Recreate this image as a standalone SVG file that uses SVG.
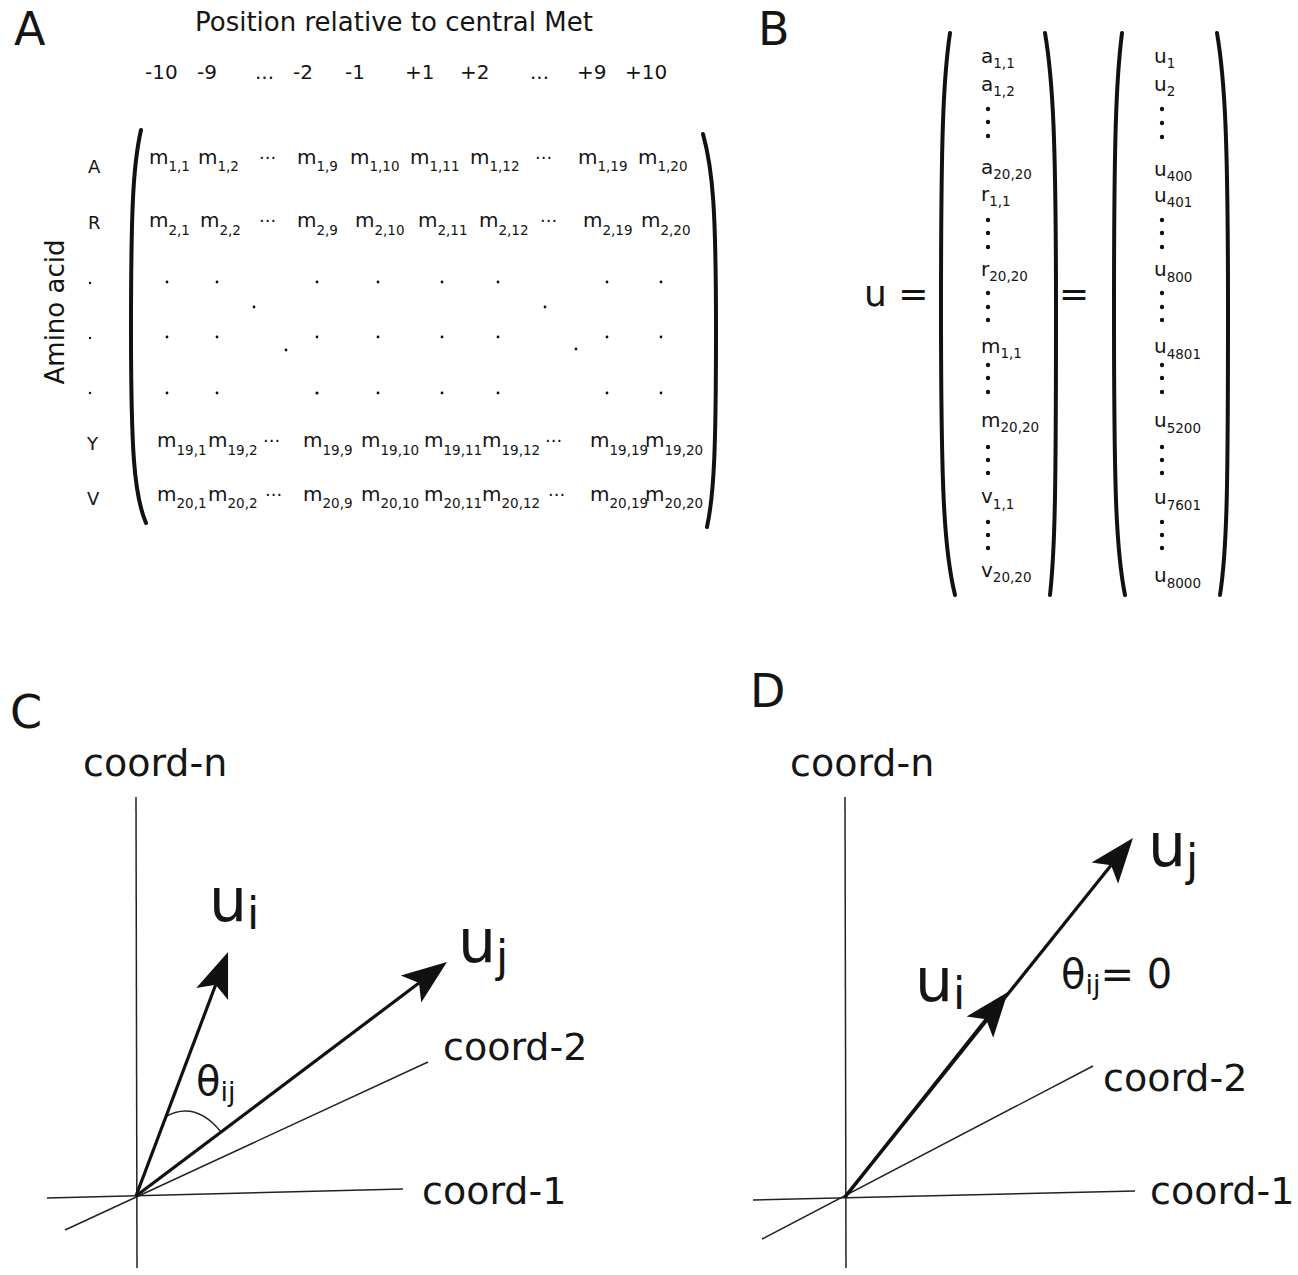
<svg xmlns="http://www.w3.org/2000/svg" width="1298" height="1275" viewBox="0 0 1298 1275">
<defs>
<style>
text{font-family:"DejaVu Sans","Liberation Sans",sans-serif;fill:#151515}
.lbl{font-size:46px}
.num{font-size:20px}
.row{font-size:18px}
.m{font-size:20px}
.s{font-size:13.5px}
.dots{font-size:18px}
.br{fill:none;stroke:#111;stroke-width:4;stroke-linecap:round}
.ax{fill:none;stroke:#222;stroke-width:1.5}
.vec{fill:none;stroke:#111;stroke-width:3.2}
.big{font-size:60px}
.bs{font-size:44px}
.co{font-size:38px}
.th{font-size:40px}
.ths{font-size:27px}
</style>
<marker id="ah" viewBox="-2 -20 50 40" refX="10" refY="0" markerWidth="50" markerHeight="40" markerUnits="userSpaceOnUse" orient="auto" overflow="visible">
<path d="M0,-17 L45,0 L0,17 L10,0 Z" fill="#111"/>
</marker>
</defs>
<rect width="1298" height="1275" fill="#fff"/>

<g id="panelA">
<text class="lbl" x="14" y="45">A</text>
<text x="195" y="31" font-size="26">Position relative to central Met</text>
<g class="num">
<text x="145" y="79">-10</text><text x="197" y="79">-9</text><text x="255" y="79">...</text>
<text x="293" y="79">-2</text><text x="345" y="79">-1</text><text x="405" y="79">+1</text>
<text x="460" y="79">+2</text><text x="530" y="79">...</text><text x="577" y="79">+9</text><text x="625" y="79">+10</text>
</g>
<text x="0" y="0" font-size="26" transform="translate(64,312) rotate(-90)" text-anchor="middle">Amino acid</text>
<g class="row">
<text x="88" y="173">A</text><text x="88" y="229">R</text>
<text x="87" y="450">Y</text><text x="87" y="505">V</text>
</g>
<g fill="#111">
<circle cx="90" cy="283" r="1.2"/><circle cx="90" cy="338" r="1.2"/><circle cx="90" cy="393" r="1.2"/>
</g>
<path class="br" d="M141,130 C133,165 131,210 131,330 C131,450 134,495 146,523"/>
<path class="br" d="M703,134 C713,170 716,210 716,330 C716,450 714,495 707,527"/>
<g id="row1" class="m">
<text x="149" y="164">m<tspan class="s" dy="7">1,1</tspan></text>
<text x="198" y="164">m<tspan class="s" dy="7">1,2</tspan></text>
<text class="dots" x="259" y="164">···</text>
<text x="297" y="164">m<tspan class="s" dy="7">1,9</tspan></text>
<text x="350" y="164">m<tspan class="s" dy="7">1,10</tspan></text>
<text x="410" y="164">m<tspan class="s" dy="7">1,11</tspan></text>
<text x="470" y="164">m<tspan class="s" dy="7">1,12</tspan></text>
<text class="dots" x="535" y="164">···</text>
<text x="578" y="164">m<tspan class="s" dy="7">1,19</tspan></text>
<text x="638" y="164">m<tspan class="s" dy="7">1,20</tspan></text>
</g>
<g id="row2" class="m">
<text x="149" y="227">m<tspan class="s" dy="8">2,1</tspan></text>
<text x="200" y="227">m<tspan class="s" dy="8">2,2</tspan></text>
<text class="dots" x="259" y="227">···</text>
<text x="297" y="227">m<tspan class="s" dy="8">2,9</tspan></text>
<text x="355" y="227">m<tspan class="s" dy="8">2,10</tspan></text>
<text x="418" y="227">m<tspan class="s" dy="8">2,11</tspan></text>
<text x="479" y="227">m<tspan class="s" dy="8">2,12</tspan></text>
<text class="dots" x="540" y="227">···</text>
<text x="583" y="227">m<tspan class="s" dy="8">2,19</tspan></text>
<text x="641" y="227">m<tspan class="s" dy="8">2,20</tspan></text>
</g>
<g id="rowdots" fill="#111">
<circle cx="167" cy="282" r="1.4"/><circle cx="217" cy="282" r="1.4"/><circle cx="317" cy="282" r="1.4"/><circle cx="378" cy="282" r="1.4"/><circle cx="442" cy="282" r="1.4"/><circle cx="498" cy="282" r="1.4"/><circle cx="607" cy="282" r="1.4"/><circle cx="661" cy="282" r="1.4"/>
<circle cx="254" cy="307" r="1.4"/><circle cx="545" cy="307" r="1.4"/>
<circle cx="167" cy="337" r="1.4"/><circle cx="217" cy="337" r="1.4"/><circle cx="317" cy="337" r="1.4"/><circle cx="378" cy="337" r="1.4"/><circle cx="442" cy="337" r="1.4"/><circle cx="498" cy="337" r="1.4"/><circle cx="607" cy="337" r="1.4"/><circle cx="661" cy="337" r="1.4"/>
<circle cx="286" cy="350" r="1.4"/><circle cx="576" cy="349" r="1.4"/>
<circle cx="167" cy="393" r="1.4"/><circle cx="217" cy="393" r="1.4"/><circle cx="317" cy="393" r="1.6"/><circle cx="378" cy="393" r="1.4"/><circle cx="442" cy="393" r="1.4"/><circle cx="498" cy="393" r="1.4"/><circle cx="607" cy="393" r="1.4"/><circle cx="661" cy="393" r="1.4"/>
</g>
<g id="row19" class="m">
<text x="157" y="447">m<tspan class="s" dy="8">19,1</tspan></text>
<text x="208" y="447">m<tspan class="s" dy="8">19,2</tspan></text>
<text class="dots" x="263" y="447">···</text>
<text x="303" y="447">m<tspan class="s" dy="8">19,9</tspan></text>
<text x="361" y="447">m<tspan class="s" dy="8">19,10</tspan></text>
<text x="424" y="447">m<tspan class="s" dy="8">19,11</tspan></text>
<text x="482" y="447">m<tspan class="s" dy="8">19,12</tspan></text>
<text class="dots" x="545" y="447">···</text>
<text x="590" y="447">m<tspan class="s" dy="8">19,19</tspan></text>
<text x="645" y="447">m<tspan class="s" dy="8">19,20</tspan></text>
</g>
<g id="row20" class="m">
<text x="157" y="501">m<tspan class="s" dy="7">20,1</tspan></text>
<text x="208" y="501">m<tspan class="s" dy="7">20,2</tspan></text>
<text class="dots" x="265" y="501">···</text>
<text x="303" y="501">m<tspan class="s" dy="7">20,9</tspan></text>
<text x="361" y="501">m<tspan class="s" dy="7">20,10</tspan></text>
<text x="424" y="501">m<tspan class="s" dy="7">20,11</tspan></text>
<text x="482" y="501">m<tspan class="s" dy="7">20,12</tspan></text>
<text class="dots" x="548" y="501">···</text>
<text x="590" y="501">m<tspan class="s" dy="7">20,19</tspan></text>
<text x="645" y="501">m<tspan class="s" dy="7">20,20</tspan></text>
</g>
</g>

<g id="panelB">
<text class="lbl" x="758" y="45">B</text>
<text x="864" y="306" font-size="36">u =</text>
<text x="1059" y="306" font-size="36">=</text>
<path class="br" d="M950,33 C943,80 941,140 941,310 C941,490 944,550 955,595"/>
<path class="br" d="M1045,33 C1053,80 1056,140 1056,310 C1056,490 1055,550 1050,595"/>
<path class="br" d="M1122,33 C1116,80 1114,140 1114,310 C1114,490 1116,550 1125,595"/>
<path class="br" d="M1217,33 C1225,80 1228,140 1228,310 C1228,490 1227,550 1220,595"/>
<g id="col1" class="m">
<text x="981" y="63">a<tspan class="s" dy="5">1,1</tspan></text>
<text x="981" y="91">a<tspan class="s" dy="5">1,2</tspan></text>
<text x="981" y="174">a<tspan class="s" dy="5">20,20</tspan></text>
<text x="981" y="201">r<tspan class="s" dy="5">1,1</tspan></text>
<text x="981" y="276">r<tspan class="s" dy="5">20,20</tspan></text>
<text x="981" y="353">m<tspan class="s" dy="5">1,1</tspan></text>
<text x="981" y="427">m<tspan class="s" dy="5">20,20</tspan></text>
<text x="981" y="503">v<tspan class="s" dy="6">1,1</tspan></text>
<text x="981" y="577">v<tspan class="s" dy="5">20,20</tspan></text>
</g>
<g id="col2" class="m">
<text x="1154" y="63">u<tspan class="s" dy="5">1</tspan></text>
<text x="1154" y="91">u<tspan class="s" dy="5">2</tspan></text>
<text x="1154" y="176">u<tspan class="s" dy="5">400</tspan></text>
<text x="1154" y="202">u<tspan class="s" dy="5">401</tspan></text>
<text x="1154" y="276">u<tspan class="s" dy="6">800</tspan></text>
<text x="1154" y="353">u<tspan class="s" dy="6">4801</tspan></text>
<text x="1154" y="427">u<tspan class="s" dy="6">5200</tspan></text>
<text x="1154" y="504">u<tspan class="s" dy="6">7601</tspan></text>
<text x="1154" y="582">u<tspan class="s" dy="6">8000</tspan></text>
</g>
<g id="vdots" fill="#111">
<circle cx="988" cy="109" r="2.2"/><circle cx="988" cy="122" r="2.2"/><circle cx="988" cy="136" r="2.2"/>
<circle cx="988" cy="220" r="2.2"/><circle cx="988" cy="233" r="2.2"/><circle cx="988" cy="247" r="2.2"/>
<circle cx="988" cy="293" r="2.2"/><circle cx="988" cy="307" r="2.2"/><circle cx="988" cy="320" r="2.2"/>
<circle cx="988" cy="365" r="2.2"/><circle cx="988" cy="378" r="2.2"/><circle cx="988" cy="392" r="2.2"/>
<circle cx="988" cy="447" r="2.2"/><circle cx="988" cy="460" r="2.2"/><circle cx="988" cy="473" r="2.2"/>
<circle cx="988" cy="522" r="2.2"/><circle cx="988" cy="535" r="2.2"/><circle cx="988" cy="548" r="2.2"/>
<circle cx="1162" cy="109" r="2.2"/><circle cx="1162" cy="123" r="2.2"/><circle cx="1162" cy="137" r="2.2"/>
<circle cx="1162" cy="220" r="2.2"/><circle cx="1162" cy="233" r="2.2"/><circle cx="1162" cy="247" r="2.2"/>
<circle cx="1162" cy="293" r="2.2"/><circle cx="1162" cy="307" r="2.2"/><circle cx="1162" cy="320" r="2.2"/>
<circle cx="1162" cy="365" r="2.2"/><circle cx="1162" cy="378" r="2.2"/><circle cx="1162" cy="392" r="2.2"/>
<circle cx="1162" cy="447" r="2.2"/><circle cx="1162" cy="460" r="2.2"/><circle cx="1162" cy="473" r="2.2"/>
<circle cx="1162" cy="522" r="2.2"/><circle cx="1162" cy="535" r="2.2"/><circle cx="1162" cy="548" r="2.2"/>
</g>
</g>

<g id="panelC">
<text class="lbl" x="10" y="728">C</text>
<text class="co" x="83" y="776">coord-n</text>
<text class="co" x="443" y="1060">coord-2</text>
<text class="co" x="422" y="1204">coord-1</text>
<text class="big" x="209" y="921">u<tspan class="bs" dy="8">i</tspan></text>
<text class="big" x="458" y="962">u<tspan class="bs" dy="10">j</tspan></text>
<text class="th" x="196" y="1095">θ<tspan class="ths" dy="6">ij</tspan></text>
</g>

<g id="panelD">
<text class="lbl" x="750" y="707">D</text>
<text class="co" x="790" y="776">coord-n</text>
<text class="co" x="1103" y="1091">coord-2</text>
<text class="co" x="1150" y="1204">coord-1</text>
<text class="big" x="915" y="1001">u<tspan class="bs" dy="8">i</tspan></text>
<text class="big" x="1148" y="866">u<tspan class="bs" dy="10">j</tspan></text>
<text class="th" x="1061" y="988">θ<tspan class="ths" dy="6">ij</tspan><tspan dy="-6">= 0</tspan></text>
</g>

<g id="connectors">
<line class="ax" x1="136" y1="797" x2="137" y2="1268"/>
<line class="ax" x1="47" y1="1198" x2="403" y2="1189"/>
<line class="ax" x1="65" y1="1230" x2="428" y2="1062"/>
<path class="ax" d="M165,1117 Q195,1100 221,1132"/>
<line class="vec" x1="136" y1="1196" x2="215.7" y2="984.7" marker-end="url(#ah)"/>
<line class="vec" x1="136" y1="1196" x2="419" y2="983" marker-end="url(#ah)"/>
<line class="ax" x1="845" y1="797" x2="846" y2="1268"/>
<line class="ax" x1="753" y1="1200" x2="1135" y2="1191"/>
<line class="ax" x1="762" y1="1239" x2="1093" y2="1066"/>
<line class="vec" x1="845" y1="1197" x2="1111.1" y2="865.3" marker-end="url(#ah)"/>
<line class="vec" x1="845" y1="1197" x2="986.1" y2="1019.3" marker-end="url(#ah)"/>
</g>
</svg>
